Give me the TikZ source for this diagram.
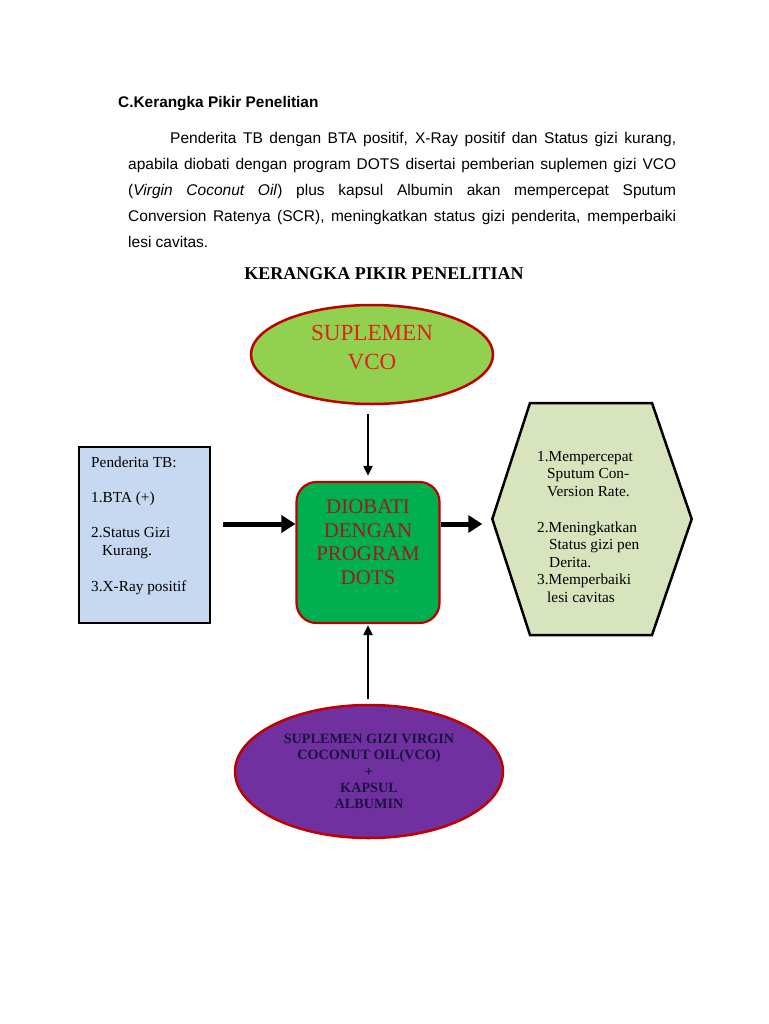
\documentclass[tikz,border=0pt]{standalone}
\usepackage{fontspec}
\setmainfont{Liberation Serif}
\newfontfamily\arialfont{Liberation Sans}
\usetikzlibrary{shapes.geometric,arrows.meta}
\definecolor{bordred}{HTML}{C00000}
\definecolor{lgreen}{HTML}{92D050}
\definecolor{dgreen}{HTML}{00B050}
\definecolor{lblue}{HTML}{C6D9F1}
\definecolor{hexfill}{HTML}{D7E4BD}
\definecolor{purp}{HTML}{7030A0}
\definecolor{supred}{HTML}{D9261C}
\definecolor{dotsred}{HTML}{9E1B1B}
\definecolor{navyt}{HTML}{1A1240}
\tikzset{
  ovalgreen/.style={ellipse, draw=bordred, line width=2.5pt, fill=lgreen, inner sep=0pt},
  ovalpurple/.style={ellipse, draw=bordred, line width=2.5pt, fill=purp, inner sep=0pt},
  bluebox/.style={draw=black, line width=2.5pt, fill=lblue, inner sep=0pt},
  dotsbox/.style={draw=bordred, line width=2.2pt, fill=dgreen, rounded corners=20pt, inner sep=0pt},
  hexline/.style={draw=black, line width=2.5pt, fill=hexfill, line join=miter},
  thinarrow/.style={draw=black, line width=2pt, -{Triangle[length=10pt,width=9pt]}},
  thickarrow/.style={draw=black, line width=5pt, -{Triangle[length=14pt,width=17pt]}},
  txt/.style={inner sep=0pt}
}
\begin{document}
\begin{tikzpicture}[x=1pt,y=-1pt]
\useasboundingbox (0,0) rectangle (768,1024);
\fill[white] (0,0) rectangle (768,1024);

% heading and paragraph
\node[txt, anchor=base west, font=\arialfont\bfseries\fontsize{15.4}{18}\selectfont] (head) at (118,108) {C.Kerangka Pikir Penelitian};
\node[txt, anchor=base west] (para) at (128,143.5) {\parbox[t]{548pt}{\arialfont\fontsize{15.5}{26}\selectfont\hyphenpenalty=10000\tolerance=9999\setlength{\parindent}{42pt}\indent Penderita TB dengan BTA positif, X-Ray positif dan Status gizi kurang,\linebreak apabila diobati dengan program DOTS disertai pemberian suplemen gizi VCO\linebreak (\textit{Virgin Coconut Oil}) plus kapsul Albumin akan mempercepat Sputum\linebreak Conversion Ratenya (SCR), meningkatkan status gizi penderita, memperbaiki\linebreak lesi cavitas.}};

\node[txt, anchor=base, font=\fontsize{18}{20}\selectfont\bfseries] (title) at (384,279) {KERANGKA PIKIR PENELITIAN};

% top ellipse
\node[ovalgreen, minimum width=242pt, minimum height=99pt] (sup) at (372,354.5) {};
\node[txt, font=\fontsize{23.1}{29}\selectfont, text=supred, align=center] (suptext) at (372,347.5) {SUPLEMEN\\VCO};

% left box
\node[bluebox, minimum width=131pt, minimum height=176pt] (pasien) at (144.5,535) {};
\node[txt, anchor=base west] (pastext) at (91,467.7) {\parbox[t]{115pt}{\fontsize{15.3}{18}\selectfont Penderita TB:\\[17pt]1.BTA (+)\\[17pt]2.Status Gizi\\\hspace*{11pt}Kurang.\\[18pt]3.X-Ray positif}};

% centre box
\node[dotsbox, minimum width=143pt, minimum height=141pt] (dots) at (368,552.5) {};
\node[txt, font=\fontsize{20.9}{23.5}\selectfont, text=dotsred, align=center] (dotstext) at (368,542) {DIOBATI\\DENGAN\\PROGRAM\\DOTS};

% hexagon
\node[txt, minimum width=199pt, minimum height=232pt] (hex) at (592,519) {};
\draw[hexline] (hex.west) -- (530,403) -- (652,403) -- (hex.east) -- (652,635) -- (530,635) -- cycle;
\node[txt, anchor=base west] (hextext) at (537,461) {\parbox[t]{150pt}{\fontsize{15.3}{17.5}\selectfont 1.Mempercepat\\\hspace*{10pt}Sputum Con-\\\hspace*{10pt}Version Rate.\\[18.5pt]2.Meningkatkan\\\hspace*{12pt}Status gizi pen\\\hspace*{12pt}Derita.\\3.Memperbaiki\\\hspace*{10pt}lesi cavitas}};

% bottom ellipse
\node[ovalpurple, minimum width=268pt, minimum height=133pt] (vco) at (369,771.5) {};
\node[txt, font=\fontsize{14.2}{16.4}\selectfont\bfseries, text=navyt, align=center] (vcotext) at (369,771.5) {SUPLEMEN GIZI VIRGIN\\COCONUT OIL(VCO)\\+\\KAPSUL\\ALBUMIN};

% connectors
\coordinate (ay) at (0,524);
\draw[thinarrow, shorten <=9pt, shorten >=5pt] (dots.north |- sup.south) -- (dots.north);
\draw[thickarrow, shorten <=12pt] (pasien.east |- ay) -- (dots.west |- ay);
\draw[thickarrow, shorten >=10pt] (dots.east |- ay) -- (hex.west |- ay);
\draw[thinarrow, shorten <=5pt, shorten >=1pt] (dots.south |- vco.north) -- (dots.south);
\end{tikzpicture}
\end{document}
